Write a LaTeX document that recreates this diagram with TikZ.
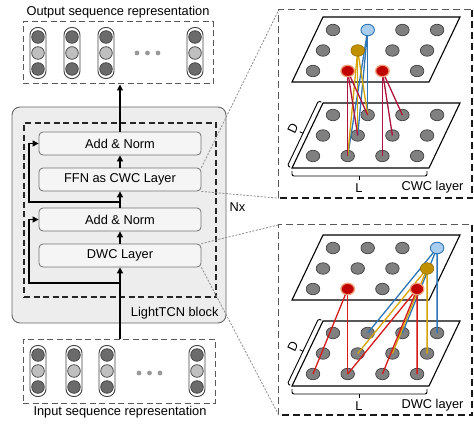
\documentclass[tikz,border=0pt]{standalone}
\usepackage{fontspec}
\setmainfont{Liberation Sans}
\usetikzlibrary{arrows.meta,shapes.geometric}
\definecolor{lnblue}{HTML}{2E75B6}
\definecolor{fblue}{HTML}{A9CDEE}
\definecolor{lngold}{HTML}{D6A400}
\definecolor{fgold}{HTML}{C09000}
\definecolor{lnredc}{HTML}{B0103C}
\definecolor{lnredd}{HTML}{D51A1A}
\definecolor{fred}{HTML}{C00000}
\definecolor{glow}{HTML}{F2A07A}
\pgfdeclarelayer{front}
\pgfsetlayers{main,front}
\begin{document}
\begin{tikzpicture}[x=1pt,y=-1pt,font=\fontsize{12.8}{15}\selectfont,
  lay/.style={draw=black!55,fill=black!4,rounded corners=4pt,minimum width=162pt,minimum height=23pt,line width=0.8pt,inner sep=0pt},
  blockbox/.style={draw=black!60,fill=black!7,rounded corners=8pt,minimum width=214pt,minimum height=216pt,line width=0.9pt},
  innerbox/.style={draw=black!85,dash pattern=on 6pt off 3.5pt,line width=1.1pt,minimum width=192pt,minimum height=174pt},
  seqbox/.style={draw=black!65,dash pattern=on 6pt off 3.5pt,line width=1pt,minimum width=190pt,minimum height=62pt},
  pill/.style={draw=black!75,fill=white,rounded corners=7.5pt,minimum width=16pt,minimum height=51pt,line width=0.9pt,inner sep=0pt},
  cdark/.style={circle,draw=black!75,fill=black!58,minimum size=12.6pt,inner sep=0pt,line width=0.7pt},
  clight/.style={circle,draw=black!75,fill=black!25,minimum size=12.6pt,inner sep=0pt,line width=0.7pt},
  seqdot/.style={circle,fill=black!40,minimum size=4.8pt,inner sep=0pt},
  arr/.style={-{Triangle[length=6pt,width=6pt]},line width=1.1pt},
  gdot/.style={ellipse,draw=black!75,fill=black!50,minimum width=13.5pt,minimum height=11.5pt,inner sep=0pt,line width=0.7pt},
  bdot/.style={ellipse,draw=lnblue,fill=fblue,minimum width=13.5pt,minimum height=11.5pt,inner sep=0pt,line width=0.9pt},
  odot/.style={ellipse,draw=fgold!80!black,fill=fgold,minimum width=13.5pt,minimum height=11.5pt,inner sep=0pt,line width=0.7pt},
  rdot/.style={ellipse,draw=glow,fill=fred,minimum width=13.5pt,minimum height=11.5pt,inner sep=0pt,line width=1.3pt},
  plane/.style={draw=black,line width=1.1pt,fill=white},
  brk/.style={draw=black,line width=0.9pt},
  panelnode/.style={draw=none,minimum width=193pt,minimum height=188pt},
  pthin/.style={draw=black!65,dash pattern=on 7pt off 4pt,line width=1.2pt},
  pthick/.style={draw=black!90,dash pattern=on 7pt off 4pt,line width=2pt},
  zoomline/.style={draw=black!45,dash pattern=on 2pt off 1.5pt,line width=0.8pt},
  bline/.style={draw=lnblue,line width=1.3pt},
  oline/.style={draw=lngold,line width=1.3pt},
  rlinec/.style={draw=lnredc,line width=1.3pt},
  rlined/.style={draw=lnredd,line width=1.3pt}]
\useasboundingbox (0,0) rectangle (474,425);

% ---------- left column ----------
\node (outlbl) at (118,12) {Output sequence representation};
\node[seqbox] (outbox) at (118,53) {};
\foreach \px [count=\i] in {38,72,106,195} {
  \node[pill] (op\i) at (\px,53) {};
  \node[cdark] (op\i-a) at (\px,37) {};
  \node[clight] (op\i-b) at (\px,53) {};
  \node[cdark] (op\i-c) at (\px,69) {};
}
\foreach \dx [count=\i] in {137,147.5,158} \node[seqdot] (od\i) at (\dx,53) {};

\node[blockbox] (block) at (119,215) {};
\node[innerbox] (inner) at (120,210) {};
\node[lay] (an2) at (120,143.5) {Add \& Norm};
\node[lay] (ffn) at (120,179.5) {FFN as CWC Layer};
\node[lay] (an1) at (120,219.5) {Add \& Norm};
\node[lay] (dwc) at (120,255.5) {DWC Layer};
\node[anchor=east] (blklbl) at (222,313) {LightTCN block};
\node[anchor=west] (nx) at (226,207) {Nx};

\node[seqbox,minimum width=192pt,minimum height=64pt] (inbox) at (119,371) {};
\foreach \px [count=\i] in {38,74,107,197} {
  \node[pill] (ip\i) at (\px,371) {};
  \node[cdark] (ip\i-a) at (\px,355) {};
  \node[clight] (ip\i-b) at (\px,371) {};
  \node[cdark] (ip\i-c) at (\px,387) {};
}
\foreach \dx [count=\i] in {139,149.5,160} \node[seqdot] (id\i) at (\dx,373) {};
\node (inlbl) at (120,412) {Input sequence representation};

\coordinate (br1) at (120,283);
\coordinate (br2) at (120,202);
\draw[arr] (inbox.north -| dwc.south) -- (dwc.south);
\draw[arr] (dwc.north) -- (an1.south);
\draw[arr] (an1.north) -- (ffn.south);
\draw[arr] (ffn.north) -- (an2.south);
\draw[arr] (an2.north) -- (an2.north |- outbox.south);
\draw[arr] (br1) -- ++(-91,0) |- (an1.west);
\draw[arr] (br2) -- ++(-91,0) |- (an2.west);

% ---------- CWC panel ----------
\node[panelnode] (cwcp) at (375.5,104) {};
\draw[pthin] (cwcp.south west) -- (cwcp.north west) -- (cwcp.north east);
\draw[pthick] (cwcp.north east) -- (cwcp.south east) -- (cwcp.south west);
\draw[plane] (323,17) -- (460,17) -- (429,82) -- (292,82) -- cycle;
\draw[plane] (323,103) -- (460,103) -- (429,168) -- (292,168) -- cycle;
\foreach \r/\c in {0/0,0/2,0/3,1/0,1/2,1/3,2/0,2/3}
  \node[gdot] (cwT-\r-\c) at ({333-10*\r+34.7*\c},{30+20.5*\r}) {};
\foreach \r in {0,1,2} \foreach \c in {0,1,2,3}
  \node[gdot] (cwB-\r-\c) at ({333-10*\r+34.7*\c},{115+20.5*\r}) {};
\begin{pgfonlayer}{front}
\node[bdot] (cwBlue) at ({333+34.7},30) {};
\node[odot] (cwGold) at ({323+34.7},50.5) {};
\node[rdot] (cwRedA) at ({313+34.7},71) {};
\node[rdot] (cwRedB) at ({313+69.4},71) {};
\end{pgfonlayer}
\foreach \r in {0,1,2} \draw[bline] (cwBlue.center) -- (cwB-\r-1.center);
\foreach \r in {0,1,2} \draw[oline] (cwGold.center) -- (cwB-\r-1.center);
\foreach \r in {0,1,2} \draw[rlinec] (cwRedA.center) -- (cwB-\r-1.center);
\foreach \r in {0,1,2} \draw[rlinec] (cwRedB.center) -- (cwB-\r-2.center);
\draw[brk,rounded corners=1.5pt] (321.2,102.1) -- (318.5,100.8) -- (287.5,165.8) -- (290.2,167.1);
\draw[brk] (303,133.3) -- (299.8,131.8);
\node[rotate=64.5] (cwD) at (293,128.6) {D};
\draw[brk,rounded corners=2pt] (292,171) -- (292,176) -- (427,176) -- (427,171);
\draw[brk] (359.5,176) -- (359.5,180);
\node (cwL) at (359,188) {L};
\node[anchor=east] (cwlbl) at (467,187) {CWC layer};

% ---------- DWC panel ----------
\node[panelnode,minimum height=190pt] (dwcp) at (375.5,320) {};
\draw[pthin] (dwcp.south west) -- (dwcp.north west) -- (dwcp.north east);
\draw[pthick] (dwcp.north east) -- (dwcp.south east) -- (dwcp.south west);
\begin{scope}[shift={(0,218)}]
\draw[plane] (323,17) -- (460,17) -- (429,82) -- (292,82) -- cycle;
\draw[plane] (323,103) -- (460,103) -- (429,168) -- (292,168) -- cycle;
\foreach \r/\c in {0/0,0/1,0/2,1/0,1/1,1/2,2/0,2/2}
  \node[gdot] (dwT-\r-\c) at ({333-10*\r+34.7*\c},{30+20.5*\r}) {};
\foreach \r in {0,1,2} \foreach \c in {0,1,2,3}
  \node[gdot] (dwB-\r-\c) at ({333-10*\r+34.7*\c},{115+20.5*\r}) {};
\begin{pgfonlayer}{front}
\node[bdot] (dwBlue) at ({333+104.1},30) {};
\node[odot] (dwGold) at ({323+104.1},50.5) {};
\node[rdot] (dwRedA) at ({313+34.7},71) {};
\node[rdot] (dwRedB) at ({313+104.1},71) {};
\end{pgfonlayer}
\foreach \c in {1,2,3} \draw[bline] (dwBlue.center) -- (dwB-0-\c.center);
\foreach \c in {1,2,3} \draw[oline] (dwGold.center) -- (dwB-1-\c.center);
\foreach \c in {0,1} \draw[rlined] (dwRedA.center) -- (dwB-2-\c.center);
\foreach \c in {1,2,3} \draw[rlined] (dwRedB.center) -- (dwB-2-\c.center);
\draw[brk,rounded corners=1.5pt] (321.2,102.1) -- (318.5,100.8) -- (287.5,165.8) -- (290.2,167.1);
\draw[brk] (303,133.3) -- (299.8,131.8);
\node[rotate=64.5] (dwD) at (293,128.6) {D};
\draw[brk,rounded corners=2pt] (292,171) -- (292,176) -- (427,176) -- (427,171);
\draw[brk] (359.5,176) -- (359.5,180);
\node (dwL) at (359,188) {L};
\node[anchor=east] (dwlbl) at (467,187) {DWC layer};
\end{scope}

% ---------- zoom connectors ----------
\draw[zoomline] (ffn.north east) -- (cwcp.north west);
\draw[zoomline] (ffn.south east) -- (cwcp.south west);
\draw[zoomline] (dwc.north east) -- (dwcp.north west);
\draw[zoomline] (dwc.south east) -- (dwcp.south west);
\end{tikzpicture}
\end{document}
